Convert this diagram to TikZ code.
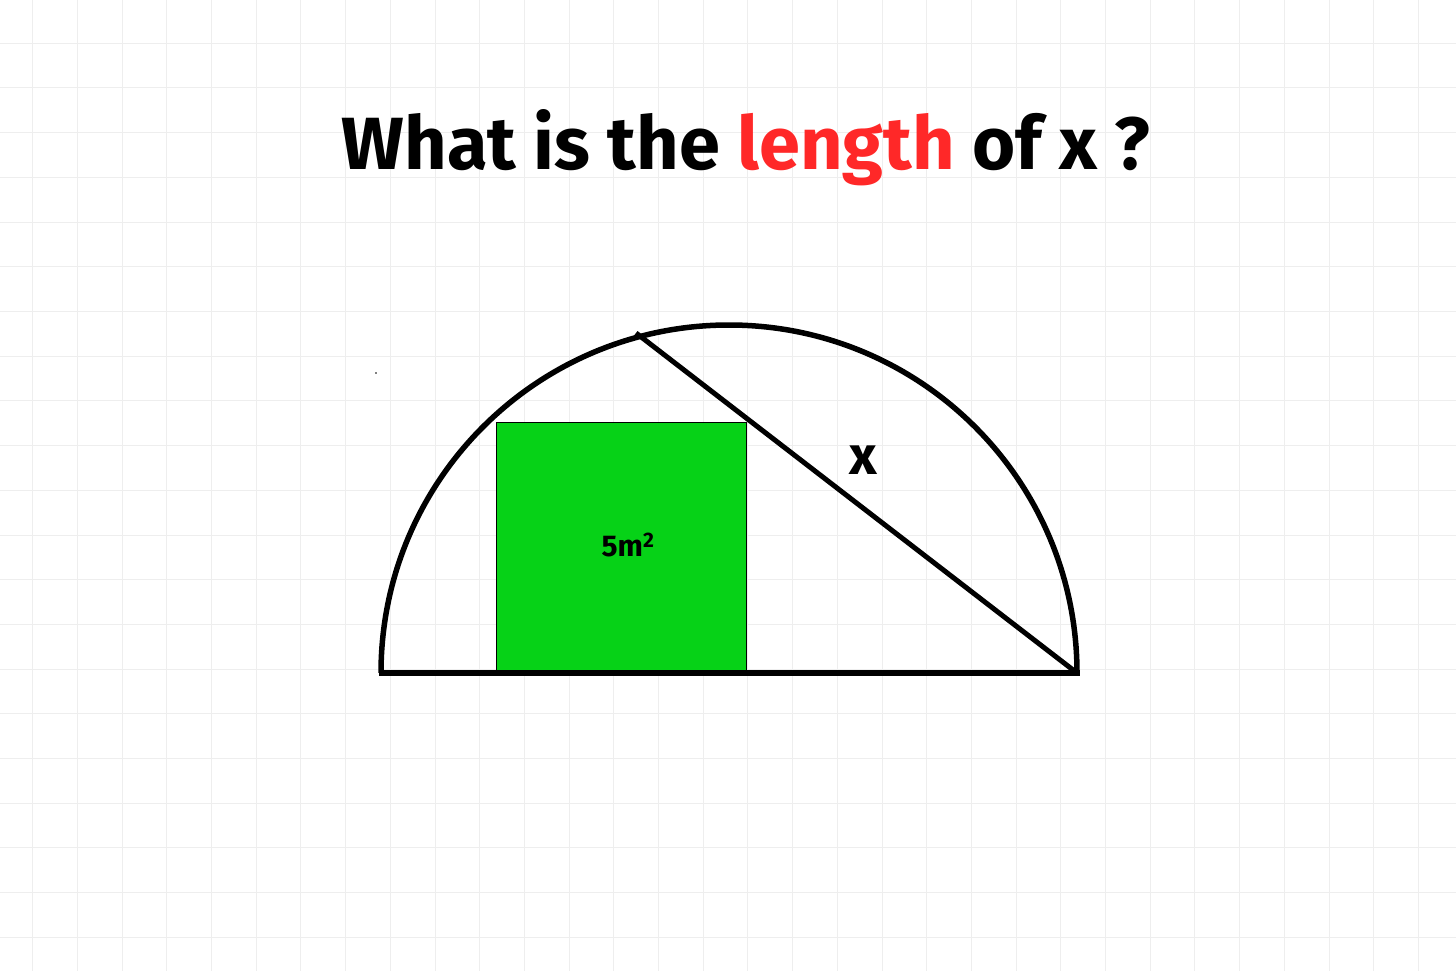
\documentclass[tikz,border=0pt]{standalone}
\usepackage{fontspec}
\setmainfont{Fira Sans}
\definecolor{gridc}{HTML}{EEEEEE}
\definecolor{sqgreen}{HTML}{06D217}
\definecolor{titlered}{HTML}{FF2828}
\begin{document}
\begin{tikzpicture}[x=1pt,y=-1pt,
  gridline/.style={gridc,line width=1pt},
  thick line/.style={black,line width=5.5pt},
  label font/.style={font=\bfseries}]
\useasboundingbox[fill=white] (0,0) rectangle (1456,971);
% grid
\foreach \i in {0,...,32} {\draw[gridline] (32.7+44.7*\i,0) -- (32.7+44.7*\i,971);}
\foreach \j in {0,...,21} {\draw[gridline] (0,43.3+44.7*\j) -- (1456,43.3+44.7*\j);}
% title
\node[font=\fontsize{74}{86}\selectfont\bfseries, inner sep=0pt] (title) at (746,148)
  {What is the {\color{titlered}length} of x ?};
% geometry
\coordinate (O) at (729,673);
\coordinate (L) at (381,673);
\coordinate (R) at (1077,673);
\coordinate (P) at (636,333);
\filldraw[fill=sqgreen,draw=black,line width=1pt] (496,422) rectangle (746,673);
\node[font=\fontsize{30}{36}\selectfont\bfseries, inner sep=0pt] (area) at (628,545) {5m$^{\mathbf 2}$};
\draw[thick line] (R) arc[start angle=0,end angle=-180,radius=348];
\draw[thick line] (379,673) -- (1080,673);
\draw[black,line width=5pt,line join=round] (P) -- (R);
\node[font=\fontsize{54}{60}\selectfont\bfseries, inner sep=0pt] (xlab) at (863,460) {x};
\fill (376,373) circle[radius=0.8];
\end{tikzpicture}
\end{document}
